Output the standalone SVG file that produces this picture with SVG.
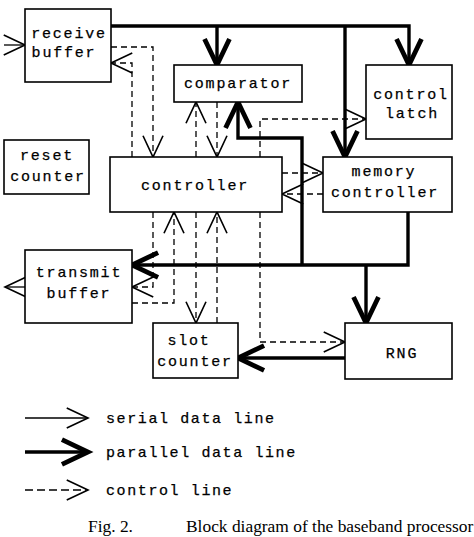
<svg xmlns="http://www.w3.org/2000/svg" width="474" height="537" viewBox="0 0 474 537">
<defs>
<style>
.box{fill:#fff;stroke:#000;stroke-width:1.6}
.t{font-family:"Liberation Mono","DejaVu Sans Mono",monospace;font-size:15px;letter-spacing:1.8px;fill:#000;stroke:#000;stroke-width:0.25;text-anchor:middle}
.lg{font-family:"Liberation Mono","DejaVu Sans Mono",monospace;font-size:15px;letter-spacing:1.6px;fill:#000;stroke:#000;stroke-width:0.25}
.cap{font-family:"Liberation Serif","Times New Roman",serif;font-size:17.4px;fill:#000}
.thick{fill:none;stroke:#000;stroke-width:3.4;marker-end:url(#ah-thick)}
.thin{fill:none;stroke:#000;stroke-width:1.3;marker-end:url(#ah-thin)}
.dash{fill:none;stroke:#000;stroke-width:1.3;stroke-dasharray:6 4;marker-end:url(#ah-thin)}
</style>
<marker id="ah-thin" markerUnits="userSpaceOnUse" markerWidth="30" markerHeight="30" viewBox="-20 -12 24 24" refX="0" refY="0" orient="auto" overflow="visible">
<path d="M-17,-8 L0,0 L-17,8" fill="none" stroke="#000" stroke-width="1.3"/>
</marker>
<marker id="ah-thick" markerUnits="userSpaceOnUse" markerWidth="34" markerHeight="34" viewBox="-26 -14 30 28" refX="0" refY="0" orient="auto" overflow="visible">
<path d="M-23,-11 L0,0 L-23,11" fill="none" stroke="#000" stroke-width="4.2"/>
</marker>
</defs>
<rect width="474" height="537" fill="#fff"/>

<g id="connectors">
<path class="thick" d="M111,26 H409 V65"/>
<path class="thick" d="M217,26 V65"/>
<path class="thick" d="M345,26 V157"/>
<path class="thick" d="M408,212 V265 H132"/>
<path class="thick" d="M302,265 V138 H238 V102"/>
<path class="thick" d="M366,265 V323"/>
<path class="thick" d="M345,358 H238"/>

<path class="dash" d="M111,47 H153 V157"/>
<path class="dash" d="M132,157 V63 H111"/>
<path class="dash" d="M196,157 V102"/>
<path class="dash" d="M217,102 V157"/>
<path class="dash" d="M260,157 V119 H366"/>
<path class="dash" d="M282,173 H323"/>
<path class="dash" d="M323,194 H282"/>
<path class="dash" d="M153,212 V287 H132"/>
<path class="dash" d="M132,303 H174 V212"/>
<path class="dash" d="M196,212 V323"/>
<path class="dash" d="M217,323 V212"/>
<path class="dash" d="M260,212 V342 H345"/>

<path class="thin" d="M4,45 H25"/>
<path class="thin" d="M25,287 H5"/>
</g>

<g id="receive-buffer">
<rect class="box" x="25" y="9" width="86" height="73"/>
<text class="t" x="69" y="38">receive</text>
<text class="t" x="64" y="57">buffer</text>
</g>
<g id="reset-counter">
<rect class="box" x="4" y="140" width="85" height="54"/>
<text class="t" x="47" y="160">reset</text>
<text class="t" x="48" y="181">counter</text>
</g>
<g id="comparator">
<rect class="box" x="174" y="65" width="128" height="37"/>
<text class="t" x="238" y="88">comparator</text>
</g>
<g id="control-latch">
<rect class="box" x="366" y="65" width="86" height="74"/>
<text class="t" x="411" y="99">control</text>
<text class="t" x="412" y="118">latch</text>
</g>
<g id="controller">
<rect class="box" x="110" y="157" width="172" height="55"/>
<text class="t" x="195" y="190">controller</text>
</g>
<g id="memory-controller">
<rect class="box" x="323" y="157" width="129" height="55"/>
<text class="t" x="384" y="176">memory</text>
<text class="t" x="385" y="197">controller</text>
</g>
<g id="transmit-buffer">
<rect class="box" x="25" y="250" width="107" height="73"/>
<text class="t" x="79" y="277">transmit</text>
<text class="t" x="79" y="298">buffer</text>
</g>
<g id="slot-counter">
<rect class="box" x="153" y="323" width="85" height="55"/>
<text class="t" x="189" y="345">slot</text>
<text class="t" x="195" y="366">counter</text>
</g>
<g id="rng">
<rect class="box" x="345" y="323" width="107" height="56"/>
<text class="t" x="402" y="358">RNG</text>
</g>

<g id="legend">
<path class="thin" d="M25,418 H88"/>
<text class="lg" x="106" y="423">serial data line</text>
<path class="thick" d="M25,452 H88"/>
<text class="lg" x="106" y="457">parallel data line</text>
<path class="dash" d="M25,490 H88" style="stroke-dasharray:8 4"/>
<text class="lg" x="106" y="495">control line</text>
</g>

<g id="caption">
<text class="cap" x="88" y="532">Fig. 2.</text>
<text class="cap" x="186" y="532">Block diagram of the baseband processor</text>
</g>
</svg>
